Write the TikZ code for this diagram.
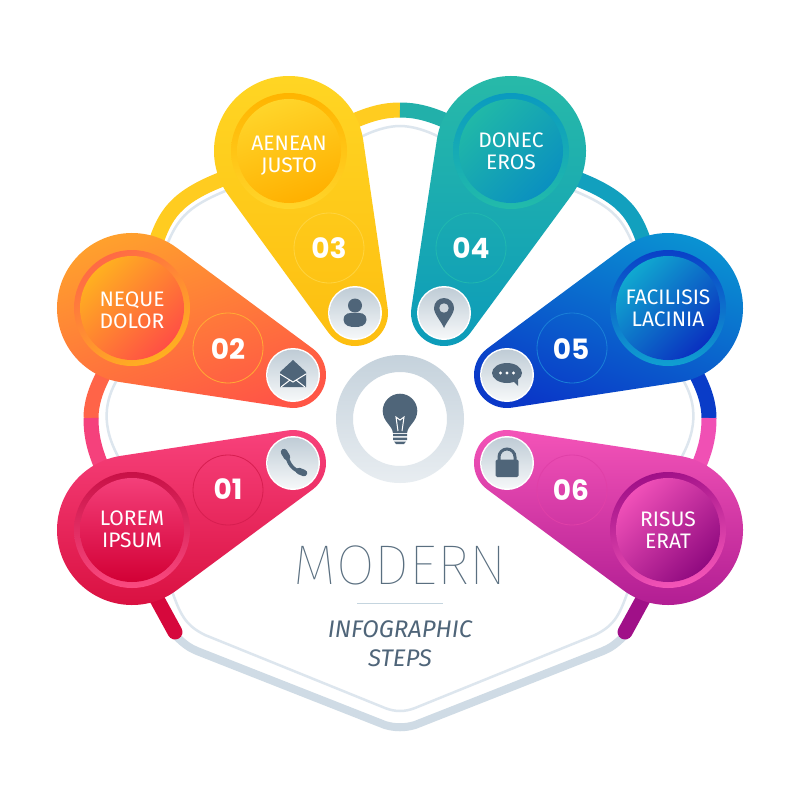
\documentclass[tikz,border=0pt]{standalone}
\usepackage{fontspec}
\setmainfont{Fira Sans}
\newfontfamily\numfont{Poppins}
\newfontfamily\thinfont{Fira Sans Thin}
\definecolor{icon}{HTML}{4F6579}
\definecolor{lineA}{HTML}{DDE6EE}
\definecolor{lineB}{HTML}{CFDBE5}
\definecolor{discA}{HTML}{BFCCD6}
\definecolor{discB}{HTML}{F6F8F9}
\tikzset{
  label text/.style={text=white,align=center,font=\fontsize{21}{22}\selectfont,inner sep=0pt},
  num text/.style={text=white,font=\fontsize{28}{28}\numfont\bfseries,inner sep=0pt},
  strip/.style={line width=15pt,line cap=butt},
  tail/.style={line width=15pt,line cap=round},
  thin rim/.style={line width=2.5pt,draw=lineA}
}
% #1 big x, #2 big y, #3 small x, #4 small y, #5 shading opts
\newcommand{\petalshape}[5]{%
  \pgfmathsetmacro\dd{veclen(#3-#1,#4-#2)}%
  \pgfmathsetmacro\th{atan2(#4-#2,#3-#1)}%
  \pgfmathsetmacro\al{acos((75-33)/\dd)}%
  \pgfmathsetmacro\sa{\th+\al}%
  \pgfmathsetmacro\sb{\th-\al+360}%
  \pgfmathsetmacro\sc{\th-\al}%
  \path[#5] ({#1+75*cos(\sa)},{#2+75*sin(\sa)})
     arc[start angle=\sa,end angle=\sb,radius=75]
     -- ({#3+33*cos(\sc)},{#4+33*sin(\sc)})
     arc[start angle=\sc,end angle=\sa,radius=33] -- cycle;
}
\newcommand{\iconbase}[2]{%
  \path[fill=white] (#1,#2) circle[radius=27pt];
  \path[top color=discA,bottom color=discB] (#1,#2) circle[radius=25.5pt];
}
\begin{document}
\begin{tikzpicture}[x=1pt,y=-1pt]
\useasboundingbox (0,0) rectangle (800,800);
\fill[white] (0,0) rectangle (800,800);

% inner thin rim
\draw[thin rim] (355,140) .. controls (375,129) and (390,126) .. (400,126) .. controls (410,126) and (425,129) .. (445,140);
\draw[thin rim] (165,250) .. controls (178,215) and (190,205) .. (235,187);
\draw[thin rim] (635,250) .. controls (622,215) and (610,205) .. (565,187);
\draw[thin rim] (118,378) .. controls (105,400) and (100,425) .. (120,460);
\draw[thin rim] (682,378) .. controls (695,400) and (700,425) .. (680,460);
\draw[thin rim] (170,585) .. controls (180,615) and (185,625) .. (205,635) -- (385,708) .. controls (395,712) and (405,712) .. (415,708) -- (595,635) .. controls (615,625) and (620,615) .. (630,585);
% outer gray rim
\draw[lineB,line width=8pt] (176,636) .. controls (185,645) and (190,648) .. (197,651) -- (385,725) .. controls (395,728) and (405,728) .. (415,725) -- (603,651) .. controls (610,648) and (615,645) .. (624,636);

% coloured connectors
\coordinate (top) at (400,110);
\coordinate (leftmid) at (91,418);
\coordinate (rightmid) at (709,418);
\draw[strip,color={rgb,255:red,255;green,204;blue,32}] (345,125) .. controls (370,113) and (385,110) .. (top);
\draw[strip,color={rgb,255:red,34;green,176;blue,170}] (top) .. controls (415,110) and (430,113) .. (455,125);
\draw[strip,color={rgb,255:red,255;green,204;blue,32}] (155,245) .. controls (165,215) and (175,197) .. (225,178);
\draw[strip,color={rgb,255:red,18;green,160;blue,190}] (645,245) .. controls (635,215) and (625,197) .. (575,178);
\draw[strip,color={rgb,255:red,255;green,100;blue,72}] (105,372) .. controls (95,390) and (91,405) .. (leftmid);
\draw[strip,color={rgb,255:red,245;green,65;blue,124}] (leftmid) .. controls (91,435) and (94,450) .. (104,472);
\draw[strip,color={rgb,255:red,10;green,60;blue,200}] (695,372) .. controls (705,390) and (709,405) .. (rightmid);
\draw[strip,color={rgb,255:red,240;green,80;blue,180}] (rightmid) .. controls (709,435) and (706,450) .. (696,472);
\coordinate (t1a) at (152,590);
\coordinate (t1b) at (175,632);
\coordinate (t6a) at (648,590);
\coordinate (t6b) at (625,632);
\draw[tail,color={rgb,255:red,214;green,8;blue,60}] (t1a) -- (t1b);
\draw[tail,color={rgb,255:red,160;green,16;blue,136}] (t6a) -- (t6b);

% petals
\petalshape{132}{530}{293}{463}{top color={rgb,255:red,248;green,66;blue,124},bottom color={rgb,255:red,216;green,14;blue,62}}
\petalshape{132}{308}{293}{375}{top color={rgb,255:red,255;green,160;blue,45},bottom color={rgb,255:red,255;green,86;blue,70},shading angle=20}
\petalshape{289}{151}{355}{313}{top color={rgb,255:red,255;green,214;blue,36},bottom color={rgb,255:red,253;green,190;blue,16}}
\petalshape{511}{151}{444}{313}{top color={rgb,255:red,40;green,186;blue,168},bottom color={rgb,255:red,12;green,155;blue,186}}
\petalshape{668}{308}{507}{375}{top color={rgb,255:red,10;green,148;blue,210},bottom color={rgb,255:red,10;green,56;blue,200},shading angle=-20}
\petalshape{668}{530}{507}{463}{top color={rgb,255:red,244;green,84;blue,184},bottom color={rgb,255:red,176;green,28;blue,146}}

% big rings and discs
\path[top color={rgb,255:red,200;green,16;blue,70},bottom color={rgb,255:red,250;green,74;blue,128}] (132,530) circle[radius=58pt];
\path[top color={rgb,255:red,244;green,63;blue,122},bottom color={rgb,255:red,210;green,0;blue,53}] (132,530) circle[radius=52pt];
\path[top color={rgb,255:red,255;green,106;blue,69},bottom color={rgb,255:red,255;green,176;blue,32},shading angle=30] (132,308) circle[radius=58pt];
\path[top color={rgb,255:red,255;green,176;blue,32},bottom color={rgb,255:red,255;green,79;blue,69},shading angle=45] (132,308) circle[radius=52pt];
\path[top color={rgb,255:red,255;green,180;blue,0},bottom color={rgb,255:red,255;green,213;blue,42}] (289,151) circle[radius=58pt];
\path[top color={rgb,255:red,255;green,213;blue,42},bottom color={rgb,255:red,255;green,176;blue,0},shading angle=20] (289,151) circle[radius=52pt];
\path[top color={rgb,255:red,10;green,154;blue,192},bottom color={rgb,255:red,34;green,187;blue,170}] (511,151) circle[radius=58pt];
\path[top color={rgb,255:red,32;green,184;blue,168},bottom color={rgb,255:red,10;green,144;blue,192},shading angle=45] (511,151) circle[radius=52pt];
\path[top color={rgb,255:red,10;green,64;blue,200},bottom color={rgb,255:red,16;green,160;blue,208}] (668,308) circle[radius=58pt];
\path[top color={rgb,255:red,16;green,168;blue,208},bottom color={rgb,255:red,10;green,48;blue,192},shading angle=45] (668,308) circle[radius=52pt];
\path[top color={rgb,255:red,160;green,16;blue,136},bottom color={rgb,255:red,245;green,85;blue,184},shading angle=15] (668,530) circle[radius=58pt];
\path[top color={rgb,255:red,240;green,80;blue,184},bottom color={rgb,255:red,144;green,10;blue,128},shading angle=45] (668,530) circle[radius=52pt];

% number circles
\draw[line width=.8pt,color={rgb,255:red,215;green,30;blue,80}] (228,490) circle[radius=35pt];
\draw[line width=.8pt,color={rgb,255:red,255;green,171;blue,53}] (228,348) circle[radius=35pt];
\draw[line width=.8pt,color={rgb,255:red,255;green,212;blue,64}] (329,248) circle[radius=35pt];
\draw[line width=.8pt,color={rgb,255:red,32;green,184;blue,176}] (471,248) circle[radius=35pt];
\draw[line width=.8pt,color={rgb,255:red,26;green,128;blue,216}] (572,348) circle[radius=35pt];
\draw[line width=.8pt,color={rgb,255:red,224;green,64;blue,168}] (572,490) circle[radius=35pt];

% labels
\node[label text] (l1) at (132,529) {LOREM\\IPSUM};
\node[label text] (l2) at (132,310) {NEQUE\\DOLOR};
\node[label text] (l3) at (289,156) {AENEAN\\JUSTO};
\node[label text] (l4) at (511,151.5) {DONEC\\EROS};
\node[label text] (l5) at (668,308) {FACILISIS\\LACINIA};
\node[label text] (l6) at (668,530) {RISUS\\ERAT};
\node[num text] (n1) at (228,489) {01};
\node[num text] (n2) at (228,349) {02};
\node[num text] (n3) at (329,248) {03};
\node[num text] (n4) at (471,248) {04};
\node[num text] (n5) at (571,349) {05};
\node[num text] (n6) at (571,490) {06};

% icon discs
\iconbase{293}{463}
\iconbase{293}{375}
\iconbase{355}{313}
\iconbase{444}{313}
\iconbase{507}{375}
\iconbase{507}{463}

% phone
\begin{scope}[shift={(293,463)}]
  \draw[icon,line width=3.6pt] (-6,-9) .. controls (-6,-1) and (0,8) .. (9,9);
  \draw[icon,line width=6.5pt,line cap=round] (-9,-11) -- (-6,-6);
  \draw[icon,line width=6.5pt,line cap=round] (6,8) -- (11,10);
\end{scope}
% envelope
\begin{scope}[shift={(293,375)}]
  \fill[icon] (0,-15) -- (13,-3) -- (13,12) -- (-13,12) -- (-13,-3) -- cycle;
  \draw[white,line width=1pt] (-13,-1) -- (0,7) -- (13,-1);
  \draw[white,line width=1pt] (-12,12) -- (-3,5);
  \draw[white,line width=1pt] (12,12) -- (3,5);
\end{scope}
% user
\begin{scope}[shift={(355,313)}]
  \fill[icon] (0,-7.5) circle[radius=7pt];
  \fill[icon] (-11.5,7) .. controls (-11,-1) and (-5,0) .. (0,0) .. controls (5,0) and (11,-1) .. (11.5,7) .. controls (11,13) and (5,14) .. (0,14) .. controls (-5,14) and (-11,13) .. (-11.5,7) -- cycle;
\end{scope}
% pin
\begin{scope}[shift={(444,313)}]
  \fill[icon] (0,15) .. controls (-3,8) and (-10,1) .. (-10,-5) arc[start angle=180,end angle=360,radius=10] .. controls (10,1) and (3,8) .. (0,15) -- cycle;
  \fill[color={rgb,255:red,205;green,213;blue,220}] (0,-5) circle[radius=4.7pt];
\end{scope}
% chat
\begin{scope}[shift={(507,375)}]
  \fill[icon] (0,-2) ellipse[x radius=15pt,y radius=10pt];
  \fill[icon] (6,6) -- (11,11) -- (11,5) -- cycle;
  \fill[white] (-6.5,-2) circle[radius=1.7pt] (0,-2) circle[radius=1.7pt] (6.5,-2) circle[radius=1.7pt];
\end{scope}
% lock
\begin{scope}[shift={(507,463)}]
  \draw[icon,line width=3pt] (-8,-2) -- (-8,-6) arc[start angle=180,end angle=360,radius=8] -- (8,-2);
  \fill[icon,rounded corners=1.5pt] (-11.5,-3.5) rectangle (11.5,14);
\end{scope}

% centre ring
\path[even odd rule,top color={rgb,255:red,197;green,210;blue,220},bottom color={rgb,255:red,232;green,237;blue,241}] (400,419) circle[radius=64pt] (400,419) circle[radius=47pt];
% bulb
\begin{scope}[shift={(400,419)}]
  \fill[icon] (-7,14) .. controls (-8,6) and (-17,3) .. (-17.3,-8) arc[start angle=180,end angle=360,radius=17.3] .. controls (17,3) and (8,6) .. (7,14) -- cycle;
  \draw[white,line width=1pt,line join=miter] (-2,12) -- (-4,-2) -- (0,1) -- (4,-2) -- (2,12);
  \fill[icon] (-7,15) rectangle (7,17) (-7,18.5) rectangle (7,21);
  \fill[icon] (-6,22.5) -- (6,22.5) -- (4,25) -- (-4,25) -- cycle;
\end{scope}

% title
\node[inner sep=0pt,text={rgb,255:red,90;green,111;blue,128},font=\fontsize{56}{56}\thinfont] (title) at (400,565) {MODERN};
\draw[line width=1pt,color={rgb,255:red,197;green,213;blue,223}] (357,603) -- (443,603);
\node[inner sep=0pt,text=icon,align=center,font=\fontsize{24}{29}\selectfont\itshape] (sub) at (400,644) {INFOGRAPHIC\\STEPS};
\end{tikzpicture}
\end{document}
